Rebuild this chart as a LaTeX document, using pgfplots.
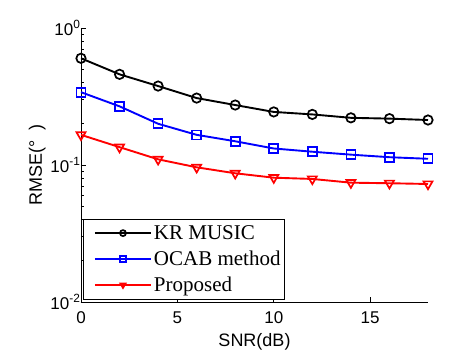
\documentclass[border=0pt]{standalone}
\usepackage{fontspec}
\setmainfont{Liberation Sans}
\newfontfamily\timesfont{Liberation Serif}
\usepackage{pgfplots}
\pgfplotsset{compat=1.18}
\pgfplotsset{mylegend/.style={legend image code/.code={
    \path (0pt,0pt);
    \draw[#1, mark=none] (9pt,0pt) -- (65pt,0pt);
    \draw[#1, mark size=3pt] plot coordinates {(37pt,0pt)};}}}
\begin{document}
\begin{tikzpicture}
\begin{semilogyaxis}[
  scale only axis,
  width=347pt, height=274pt,
  xmin=0, xmax=18, ymin=0.01, ymax=1,
  axis lines*=left,
  axis line style={black, line width=0.6pt},
  tick align=inside,
  major tick length=5pt, minor tick length=3pt,
  tick style={black, line width=0.6pt},
  xtick={0,5,10,15},
  ytick={0.01,0.1,1},
  yticklabels={10\textsuperscript{-2},10\textsuperscript{-1},10\textsuperscript{0}},
  /pgf/number format/assume math mode=true,
  ticklabel style={font=\fontsize{17}{19}\selectfont},
  xticklabel style={yshift=-6pt},
  yticklabel style={xshift=3pt},
  xlabel={SNR(dB)},
  ylabel={RMSE(°\ \ )},
  label style={font=\fontsize{18}{20}\selectfont},
  xlabel style={yshift=-3pt},
  ylabel style={yshift=-2pt},
  legend style={at={(rel axis cs:0.005,0.01)}, anchor=south west,
    font=\timesfont\fontsize{21}{24}\selectfont, draw=black, line width=0.6pt,
    row sep=6pt, inner xsep=2pt, inner ysep=4pt},
  legend cell align=left,
  every axis plot/.append style={mylegend},
]
\addplot[black, line width=1.9pt, mark=o, mark size=4.7pt, mark options={line width=1.7pt}]
coordinates {(0,0.601)(2,0.459)(4,0.377)(6,0.308)(8,0.274)(10,0.244)(12,0.234)(14,0.221)(16,0.218)(18,0.213)};
\addplot[blue, line width=1.9pt, mark=square, mark size=4.5pt, mark options={line width=1.7pt}]
coordinates {(0,0.340)(2,0.268)(4,0.200)(6,0.166)(8,0.149)(10,0.132)(12,0.125)(14,0.119)(16,0.114)(18,0.111)};
\addplot[red, line width=1.9pt, mark=triangle, mark size=5.2pt, mark options={rotate=180, line width=1.7pt}]
coordinates {(0,0.166)(2,0.135)(4,0.110)(6,0.0962)(8,0.0870)(10,0.0808)(12,0.0791)(14,0.0743)(16,0.0736)(18,0.0727)};
\legend{KR MUSIC, OCAB method, Proposed}
\coordinate (o) at (rel axis cs:0,0);
\end{semilogyaxis}
\pgfresetboundingbox
\path (o) ++(-81pt,-54pt) rectangle ++(474pt,356pt);
\end{tikzpicture}
\end{document}
